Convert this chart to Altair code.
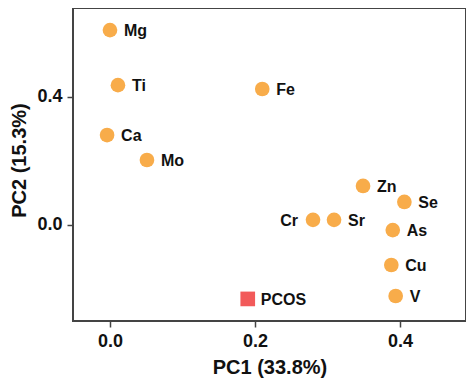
import altair as alt
import pandas as pd

elements = ["Mg", "Ti", "Ca", "Mo", "Fe", "Zn", "Se", "Cr", "Sr", "As", "Cu", "V"]
pc1 = [0.000, 0.011, -0.004, 0.051, 0.210, 0.349, 0.406, 0.280, 0.309, 0.390, 0.388, 0.394]
pc2 = [0.609, 0.437, 0.281, 0.203, 0.425, 0.122, 0.072, 0.016, 0.016, -0.016, -0.125, -0.222]
label_side = ["right"] * 7 + ["left"] + ["right"] * 4

group_name = ["PCOS"]
group_pc1 = [0.190]
group_pc2 = [-0.231]

var_df = pd.DataFrame({"name": elements, "PC1": pc1, "PC2": pc2, "side": label_side})
grp_df = pd.DataFrame({"name": group_name, "PC1": group_pc1, "PC2": group_pc2})

FONT = "Liberation Sans"
xscale = alt.Scale(domain=[-0.051, 0.491], nice=False, zero=False)
yscale = alt.Scale(domain=[-0.300, 0.678], nice=False, zero=False)

xaxis = alt.Axis(
    title="PC1 (33.8%)", values=[0.0, 0.2, 0.4], format=".1f", grid=False, domain=False,
    tickColor="#444", tickWidth=1.5, tickSize=6, labelPadding=5,
    labelFont=FONT, labelFontSize=18, labelFontWeight="bold", labelColor="#111",
    titleFont=FONT, titleFontSize=20, titleFontWeight="bold", titleColor="#111",
    titleY=46, titleBaseline="middle",
)
yaxis = alt.Axis(
    title="PC2 (15.3%)", values=[0.0, 0.4], format=".1f", grid=False, domain=False,
    tickColor="#444", tickWidth=1.5, tickSize=6, labelPadding=5,
    labelFont=FONT, labelFontSize=18, labelFontWeight="bold", labelColor="#111",
    titleFont=FONT, titleFontSize=20, titleFontWeight="bold", titleColor="#111",
    titleX=-54, titleY=152, titleAlign="center", titleBaseline="middle", titleAngle=-90,
)

base_x = alt.X("PC1:Q", scale=xscale, axis=xaxis)
base_y = alt.Y("PC2:Q", scale=yscale, axis=yaxis)

dots = alt.Chart(var_df).mark_circle(size=215, color="#F8AC4A", opacity=1).encode(x=base_x, y=base_y)

lab_right = alt.Chart(var_df).transform_filter(alt.datum.side == "right").mark_text(
    align="left", baseline="middle", dx=14, dy=1, font=FONT, fontSize=16, fontWeight="bold", color="#111"
).encode(x="PC1:Q", y="PC2:Q", text="name:N")

lab_left = alt.Chart(var_df).transform_filter(alt.datum.side == "left").mark_text(
    align="right", baseline="middle", dx=-15, dy=1, font=FONT, fontSize=16, fontWeight="bold", color="#111"
).encode(x="PC1:Q", y="PC2:Q", text="name:N")

sq = alt.Chart(grp_df).mark_square(size=215, color="#F25A5A", opacity=1).encode(x="PC1:Q", y="PC2:Q")
sq_lab = alt.Chart(grp_df).mark_text(
    align="left", baseline="middle", dx=13, dy=1, font=FONT, fontSize=16, fontWeight="bold", color="#111"
).encode(x="PC1:Q", y="PC2:Q", text="name:N")

chart = alt.layer(dots, lab_right, lab_left, sq, sq_lab).properties(
    width=393, height=313,
    autosize=alt.AutoSizeParams(type="none"),
    padding={"left": 65, "top": 0, "right": 0, "bottom": 58},
).configure_view(stroke="#444", strokeWidth=2)

chart.save("out.html", embed_options={"renderer": "svg", "actions": False})
